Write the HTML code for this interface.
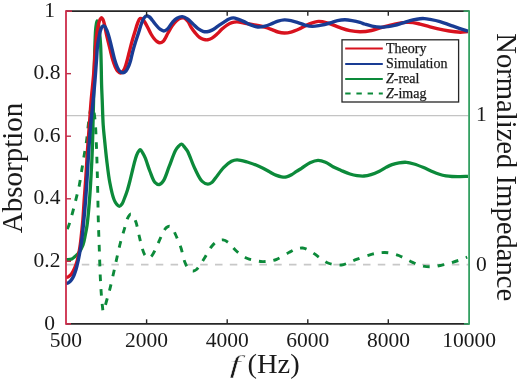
<!DOCTYPE html>
<html><head><meta charset="utf-8"><style>
html,body{margin:0;padding:0;background:#fff;}
svg{display:block;filter:blur(0.35px);}
text{font-family:"Liberation Serif","Times New Roman",serif;fill:#1a1a1a;}
</style></head><body>
<svg width="520" height="381" viewBox="0 0 520 381">
<rect x="0" y="0" width="520" height="381" fill="#fff"/>
<!-- reference lines -->
<line x1="66" y1="115.7" x2="468.5" y2="115.7" stroke="#c4c4c4" stroke-width="1.2"/>
<line x1="67" y1="264.7" x2="468.5" y2="264.7" stroke="#c8c8c8" stroke-width="1.8" stroke-dasharray="7.5 7.3"/>
<!-- curves -->
<g fill="none" stroke-linejoin="round" stroke-linecap="butt">
<path d="M66.00,231.50 C66.80,229.83 67.68,228.33 68.40,226.50 C69.23,224.39 69.90,221.84 70.60,219.50 C71.30,217.17 71.88,215.18 72.60,212.50 C73.57,208.92 74.73,204.27 75.80,199.90 C76.96,195.19 78.29,190.27 79.30,185.20 C80.37,179.85 81.12,173.96 82.00,168.60 C82.82,163.58 83.62,158.77 84.40,154.00 C85.15,149.41 85.96,145.16 86.60,140.50 C87.28,135.52 87.73,129.78 88.30,125.00 C88.79,120.88 89.15,116.84 89.80,113.50 C90.31,110.86 90.86,106.58 91.60,106.50 C92.18,106.44 93.06,108.77 93.60,110.50 C94.47,113.29 94.79,117.73 95.20,122.00 C95.72,127.32 95.93,134.18 96.20,140.00 C96.46,145.49 96.62,150.55 96.80,156.00 C96.99,161.70 97.14,167.37 97.30,173.50 C97.48,180.30 97.64,187.56 97.80,195.00 C97.97,203.02 98.07,211.59 98.30,220.00 C98.53,228.58 98.88,236.95 99.20,246.00 C99.55,255.88 99.89,268.21 100.30,277.00 C100.61,283.51 100.91,288.83 101.30,294.00 C101.63,298.35 102.01,302.81 102.40,306.00 C102.66,308.13 102.77,311.25 103.20,311.30 C103.55,311.34 104.13,309.36 104.60,308.00 C105.32,305.93 106.02,302.78 106.80,300.00 C107.65,296.97 108.54,294.20 109.50,290.50 C110.83,285.36 112.45,277.99 113.80,272.00 C115.07,266.35 116.21,260.72 117.40,255.50 C118.48,250.77 119.42,246.48 120.60,242.00 C121.78,237.51 123.28,232.75 124.50,228.60 C125.56,224.99 126.20,221.11 127.50,218.50 C128.44,216.60 129.70,214.11 130.80,214.00 C131.70,213.91 132.71,215.39 133.50,216.50 C134.53,217.96 135.21,219.91 136.00,222.30 C137.17,225.86 138.13,231.54 139.20,236.00 C140.23,240.27 141.21,245.04 142.30,248.50 C143.10,251.05 143.75,253.36 144.80,255.00 C145.58,256.23 146.50,257.49 147.50,257.80 C148.36,258.06 149.45,257.71 150.30,257.20 C151.33,256.58 152.03,255.51 153.00,254.00 C154.79,251.23 157.31,245.07 159.10,241.20 C160.57,238.03 161.61,234.95 163.00,232.50 C164.11,230.54 165.21,228.52 166.50,227.50 C167.44,226.76 168.53,226.18 169.50,226.30 C170.54,226.43 171.61,227.44 172.50,228.50 C173.70,229.92 174.53,232.41 175.50,234.50 C176.53,236.73 177.57,239.20 178.50,241.50 C179.39,243.70 180.26,245.74 181.00,248.00 C181.78,250.39 182.35,253.09 183.00,255.50 C183.61,257.75 184.02,259.96 184.80,262.00 C185.54,263.95 186.42,266.05 187.50,267.50 C188.38,268.69 189.42,269.72 190.50,270.30 C191.44,270.80 192.52,271.12 193.50,271.00 C194.52,270.88 195.55,270.28 196.50,269.50 C197.74,268.48 198.81,266.66 200.00,265.00 C201.37,263.08 202.86,260.75 204.20,258.60 C205.52,256.48 206.70,254.30 208.00,252.20 C209.30,250.10 210.46,247.81 212.00,246.00 C213.47,244.27 215.12,242.52 217.00,241.50 C218.80,240.52 221.04,239.69 223.00,239.90 C225.04,240.12 227.14,241.56 229.00,243.00 C231.11,244.64 232.86,247.59 234.80,249.50 C236.53,251.20 238.04,252.58 240.00,254.00 C242.21,255.60 244.92,257.41 247.50,258.50 C249.93,259.53 252.48,259.98 255.00,260.50 C257.51,261.01 260.08,261.52 262.60,261.60 C265.08,261.68 267.61,261.40 270.00,261.00 C272.31,260.62 274.19,260.30 276.70,259.30 C280.32,257.86 285.74,254.17 289.30,252.30 C291.86,250.96 293.71,249.72 296.00,249.00 C298.18,248.32 300.57,247.80 302.70,248.00 C304.73,248.19 306.61,249.08 308.50,250.00 C310.55,251.00 312.56,252.55 314.50,253.90 C316.40,255.22 318.01,256.61 320.00,258.00 C322.24,259.57 324.83,261.69 327.30,262.80 C329.50,263.79 331.68,264.23 334.00,264.60 C336.41,264.98 339.03,265.32 341.50,265.00 C344.03,264.67 346.52,263.52 349.00,262.60 C351.52,261.66 353.58,260.52 356.50,259.40 C360.44,257.89 366.62,255.70 370.60,254.60 C373.43,253.81 375.57,253.35 378.00,253.00 C380.30,252.67 382.54,252.45 384.80,252.50 C387.04,252.55 389.24,252.83 391.50,253.30 C393.90,253.80 396.46,254.58 398.80,255.50 C401.12,256.41 403.23,257.67 405.50,258.80 C407.86,259.97 410.31,261.31 412.70,262.40 C414.98,263.44 417.18,264.50 419.50,265.20 C421.78,265.89 424.16,266.37 426.50,266.60 C428.82,266.83 431.12,266.80 433.50,266.60 C436.01,266.39 438.72,265.80 441.20,265.30 C443.54,264.83 445.72,264.32 448.00,263.70 C450.35,263.06 452.84,262.21 455.10,261.50 C457.16,260.85 459.02,260.30 461.00,259.60 C463.05,258.87 465.13,258.00 467.20,257.20" stroke="#0c8a3a" stroke-width="2.9" stroke-dasharray="6.7 7.99" stroke-dashoffset="-2.8"/>
<path d="M66.00,259.70 C67.93,259.47 70.21,259.66 71.80,259.00 C73.15,258.44 73.98,257.39 75.10,256.40 C76.38,255.26 77.80,254.12 79.00,252.50 C80.49,250.49 81.97,247.75 83.00,245.00 C84.13,241.97 84.62,238.34 85.30,235.00 C85.98,231.67 86.54,229.10 87.10,225.00 C87.99,218.56 88.83,208.34 89.50,200.00 C90.17,191.67 90.63,183.34 91.10,175.00 C91.57,166.67 91.97,158.71 92.30,150.00 C92.66,140.46 92.85,130.00 93.10,120.00 C93.35,110.00 93.57,100.00 93.80,90.00 C94.03,80.00 94.26,68.99 94.50,60.00 C94.70,52.66 94.84,45.82 95.10,40.00 C95.30,35.49 95.41,31.48 95.80,28.00 C96.10,25.29 96.46,20.86 97.00,20.80 C97.37,20.76 97.93,22.67 98.30,24.00 C98.86,26.04 99.15,29.00 99.50,32.00 C99.95,35.80 100.32,40.20 100.60,45.00 C100.94,50.95 101.03,58.33 101.20,65.00 C101.37,71.67 101.41,78.81 101.60,85.00 C101.76,90.36 101.97,94.36 102.20,100.00 C102.49,107.27 102.72,117.73 103.20,125.00 C103.58,130.64 104.07,134.64 104.60,140.00 C105.21,146.19 105.87,153.14 106.70,160.00 C107.58,167.29 108.47,175.56 109.80,182.50 C110.97,188.60 112.51,195.71 114.00,199.50 C114.81,201.55 115.51,202.82 116.50,204.00 C117.33,204.99 118.38,206.31 119.30,206.30 C120.21,206.29 121.24,205.02 122.00,204.00 C122.95,202.73 123.44,200.90 124.20,199.00 C125.18,196.55 126.34,193.54 127.30,190.50 C128.39,187.07 129.37,183.05 130.30,179.40 C131.20,175.88 131.96,172.37 132.80,169.00 C133.59,165.81 134.33,162.53 135.20,159.70 C135.95,157.27 136.62,154.80 137.60,153.00 C138.36,151.61 139.34,149.59 140.20,149.60 C141.07,149.61 142.00,151.90 142.80,153.20 C143.65,154.59 144.26,155.76 145.10,157.70 C146.53,161.01 148.27,167.22 150.00,171.50 C151.56,175.36 152.87,180.20 154.90,182.30 C156.20,183.65 157.92,184.68 159.30,184.50 C160.73,184.32 162.04,182.77 163.30,181.00 C165.45,177.98 167.12,171.64 169.10,166.70 C171.22,161.40 173.62,153.75 175.60,150.20 C176.65,148.32 177.50,147.24 178.60,146.20 C179.53,145.32 180.64,144.10 181.60,144.20 C182.64,144.30 183.65,146.10 184.60,147.20 C185.62,148.38 186.44,149.25 187.50,151.10 C189.58,154.75 192.18,163.21 194.80,168.50 C197.12,173.20 199.48,178.87 202.20,181.40 C203.96,183.04 206.08,184.04 207.80,184.10 C209.23,184.15 210.58,183.39 211.80,182.50 C213.26,181.44 214.19,179.68 215.70,177.80 C217.89,175.07 220.79,170.46 223.60,167.60 C226.09,165.07 228.98,162.58 231.50,161.30 C233.40,160.34 234.88,159.86 237.00,159.80 C239.87,159.72 243.76,161.01 247.20,162.00 C250.86,163.05 254.80,164.50 258.30,166.00 C261.61,167.42 265.28,169.37 267.70,170.70 C269.27,171.57 270.13,172.26 271.50,173.00 C273.03,173.83 274.80,174.76 276.50,175.40 C278.14,176.02 279.82,176.55 281.50,176.80 C283.15,177.04 284.87,177.21 286.50,176.90 C288.20,176.57 289.88,175.68 291.50,174.80 C293.21,173.87 294.82,172.49 296.50,171.40 C298.16,170.32 299.62,169.49 301.50,168.30 C303.97,166.74 307.12,164.15 310.00,162.80 C312.62,161.57 315.37,160.37 318.00,160.30 C320.53,160.23 323.08,161.18 325.50,162.20 C328.09,163.29 330.41,165.43 333.00,166.80 C335.58,168.17 338.24,169.23 341.00,170.40 C343.90,171.63 347.16,173.11 350.00,174.00 C352.45,174.76 354.65,175.27 357.00,175.60 C359.32,175.93 361.68,176.16 364.00,176.00 C366.34,175.84 368.60,175.32 371.00,174.60 C373.71,173.79 376.81,172.46 379.40,171.20 C381.78,170.04 383.83,168.53 386.00,167.40 C388.02,166.35 389.89,165.36 392.00,164.60 C394.21,163.81 396.61,163.18 399.00,162.80 C401.44,162.41 404.01,162.11 406.50,162.30 C409.01,162.50 411.37,163.21 414.00,164.00 C417.03,164.91 420.58,166.35 423.60,167.60 C426.38,168.75 428.85,170.08 431.50,171.20 C434.12,172.31 436.86,173.50 439.40,174.30 C441.67,175.02 443.84,175.53 446.00,175.90 C448.04,176.25 449.85,176.38 452.00,176.50 C454.47,176.64 457.33,176.62 460.00,176.60 C462.67,176.58 465.33,176.47 468.00,176.40" stroke="#0c8a3a" stroke-width="3.3"/>
<path d="M66.00,277.30 C66.67,277.20 67.36,277.25 68.00,277.00 C68.70,276.72 69.37,276.18 70.00,275.60 C70.71,274.94 71.37,274.11 72.00,273.20 C72.72,272.15 73.37,270.92 74.00,269.60 C74.72,268.09 75.40,266.29 76.00,264.60 C76.60,262.92 77.13,261.35 77.60,259.50 C78.15,257.36 78.56,254.92 79.00,252.50 C79.47,249.93 79.89,247.52 80.30,244.50 C80.83,240.59 81.35,235.27 81.80,231.00 C82.21,227.15 82.55,224.21 82.90,220.00 C83.37,214.33 83.72,207.04 84.20,200.00 C84.74,192.13 85.45,183.33 86.00,175.00 C86.55,166.67 86.92,158.57 87.50,150.00 C88.11,140.93 88.95,130.77 89.60,122.00 C90.17,114.23 90.56,107.56 91.20,100.00 C91.88,91.93 92.92,83.34 93.60,75.00 C94.28,66.67 94.75,57.13 95.30,50.00 C95.71,44.66 95.93,40.43 96.50,36.00 C97.02,31.97 97.78,27.53 98.50,24.50 C98.98,22.47 99.34,20.68 100.00,19.50 C100.43,18.72 101.00,17.80 101.50,17.80 C102.00,17.80 102.56,18.69 103.00,19.50 C103.73,20.84 104.18,23.34 104.70,25.50 C105.30,27.99 105.71,30.86 106.30,33.60 C106.91,36.43 107.61,39.32 108.30,42.20 C109.00,45.12 109.75,48.05 110.50,51.00 C111.25,53.98 111.95,57.24 112.80,60.00 C113.54,62.42 114.30,64.72 115.20,66.70 C115.96,68.38 116.71,70.11 117.70,71.20 C118.47,72.05 119.43,72.97 120.30,73.00 C121.13,73.03 122.08,72.25 122.80,71.50 C123.71,70.56 124.35,69.03 125.00,67.50 C125.79,65.63 126.34,63.35 127.00,61.00 C127.77,58.25 128.50,55.12 129.30,52.00 C130.16,48.63 131.04,44.95 132.00,41.50 C132.94,38.12 134.04,34.64 135.00,31.50 C135.86,28.68 136.56,25.81 137.50,23.50 C138.26,21.63 138.93,19.14 140.00,18.60 C140.73,18.23 141.75,18.54 142.50,19.00 C143.48,19.60 144.17,21.17 145.00,22.50 C146.00,24.10 147.02,26.12 148.00,28.00 C149.02,29.95 149.94,32.17 151.00,34.00 C151.95,35.64 152.93,37.20 154.00,38.50 C154.95,39.65 155.95,40.77 157.00,41.50 C157.90,42.13 158.83,42.78 159.80,42.80 C160.83,42.83 161.96,42.40 163.00,41.50 C164.75,39.99 166.43,35.69 168.00,33.00 C169.41,30.57 170.53,28.17 172.00,26.06 C173.38,24.09 174.94,22.08 176.50,20.70 C177.79,19.56 179.15,18.56 180.50,18.12 C181.66,17.74 182.87,17.52 184.00,17.92 C185.40,18.41 186.86,20.09 188.00,21.54 C189.23,23.11 189.86,25.29 191.00,27.10 C192.18,28.98 193.57,30.87 195.00,32.60 C196.41,34.30 197.93,36.25 199.50,37.40 C200.79,38.34 202.12,38.90 203.50,39.30 C204.85,39.69 206.31,39.98 207.70,39.80 C209.15,39.61 210.57,38.93 212.00,38.10 C213.68,37.13 215.37,35.56 217.00,34.10 C218.71,32.57 220.29,30.63 222.00,29.10 C223.63,27.64 225.27,26.21 227.00,25.10 C228.61,24.07 230.29,23.13 232.00,22.60 C233.63,22.09 235.19,21.88 237.00,21.90 C239.14,21.92 241.52,22.57 244.00,23.00 C246.82,23.49 249.81,24.07 253.00,24.70 C256.62,25.42 261.19,26.18 264.60,27.10 C267.37,27.85 269.67,28.74 272.00,29.60 C274.12,30.38 275.93,31.43 278.00,32.00 C280.07,32.57 282.25,32.98 284.40,33.00 C286.58,33.02 288.67,32.70 291.00,32.10 C293.81,31.37 297.03,29.92 300.00,28.60 C303.03,27.26 305.89,25.30 309.00,24.10 C312.09,22.90 315.40,21.55 318.60,21.40 C321.73,21.25 324.72,22.20 328.00,23.10 C331.80,24.15 336.16,26.31 340.00,27.60 C343.46,28.77 346.64,29.92 350.00,30.60 C353.30,31.27 356.55,31.69 360.00,31.70 C363.70,31.71 367.79,31.24 371.50,30.50 C375.11,29.78 378.33,28.42 382.00,27.40 C386.00,26.29 390.47,24.94 394.60,24.10 C398.50,23.30 402.75,22.60 406.10,22.40 C408.68,22.25 410.70,22.32 413.00,22.60 C415.34,22.88 417.47,23.48 420.00,24.10 C423.05,24.85 426.44,25.99 430.00,26.90 C434.04,27.93 438.74,29.07 443.00,29.90 C447.07,30.69 451.78,31.43 455.00,31.80 C457.15,32.05 458.45,32.20 460.40,32.20 C462.72,32.19 465.47,31.80 468.00,31.60" stroke="#d8121e" stroke-width="3.4"/>
<path d="M66.00,283.50 C66.67,283.33 67.36,283.30 68.00,283.00 C68.70,282.67 69.37,282.11 70.00,281.50 C70.71,280.81 71.38,279.95 72.00,279.00 C72.72,277.90 73.38,276.61 74.00,275.20 C74.73,273.54 75.38,271.66 76.00,269.60 C76.73,267.17 77.41,264.15 78.00,261.50 C78.57,258.96 79.04,256.46 79.50,254.00 C79.94,251.63 80.31,249.48 80.70,247.00 C81.14,244.19 81.59,241.28 82.00,238.00 C82.50,234.07 82.91,230.04 83.40,225.00 C84.08,218.02 84.95,208.34 85.60,200.00 C86.25,191.67 86.77,183.33 87.30,175.00 C87.83,166.67 88.23,158.33 88.80,150.00 C89.37,141.66 89.97,133.33 90.70,125.00 C91.43,116.66 92.45,107.87 93.20,100.00 C93.87,92.96 94.45,86.67 95.00,80.00 C95.55,73.34 96.04,66.19 96.50,60.00 C96.90,54.64 97.05,49.35 97.60,45.00 C98.02,41.61 98.62,38.75 99.20,36.00 C99.70,33.65 100.08,31.29 100.80,29.50 C101.36,28.11 101.98,26.35 102.80,26.00 C103.39,25.75 104.23,26.07 104.80,26.50 C105.53,27.06 105.99,28.40 106.50,29.50 C107.07,30.74 107.48,31.97 108.00,33.60 C108.75,35.93 109.65,39.31 110.40,42.20 C111.15,45.11 111.79,48.09 112.50,51.00 C113.19,53.86 113.81,56.82 114.60,59.50 C115.33,61.96 116.05,64.43 117.00,66.50 C117.82,68.30 118.65,70.24 119.80,71.30 C120.70,72.13 121.88,72.84 122.90,72.80 C123.94,72.76 125.12,71.90 126.00,71.00 C127.05,69.93 127.76,68.14 128.50,66.50 C129.32,64.68 129.96,62.69 130.60,60.50 C131.35,57.93 131.83,54.94 132.60,52.00 C133.44,48.79 134.47,45.32 135.50,42.00 C136.54,38.66 137.76,35.20 138.80,32.00 C139.75,29.05 140.54,26.00 141.50,23.50 C142.29,21.44 143.00,19.35 144.00,18.00 C144.74,17.00 145.58,15.96 146.50,15.80 C147.41,15.64 148.57,16.34 149.50,17.00 C150.61,17.79 151.48,19.25 152.50,20.50 C153.64,21.89 154.76,23.56 156.00,25.00 C157.25,26.46 158.58,28.18 160.00,29.20 C161.21,30.07 162.55,31.03 163.80,31.00 C165.05,30.97 166.29,30.05 167.50,29.00 C169.21,27.52 170.78,24.16 172.50,22.27 C173.96,20.66 175.32,19.15 177.00,18.21 C178.60,17.32 180.56,16.55 182.30,16.67 C184.07,16.80 185.83,17.91 187.50,19.02 C189.41,20.29 191.21,22.46 193.00,24.10 C194.70,25.65 196.26,27.37 198.00,28.60 C199.60,29.73 201.37,30.80 203.00,31.30 C204.39,31.72 205.69,31.85 207.10,31.70 C208.68,31.53 210.34,30.91 212.00,30.10 C213.96,29.15 216.00,27.43 218.00,26.10 C220.00,24.77 222.08,23.33 224.00,22.10 C225.73,20.99 227.34,19.71 229.00,19.00 C230.44,18.39 231.83,17.90 233.30,17.90 C234.83,17.90 236.36,18.55 238.00,19.10 C239.90,19.73 242.02,20.69 244.00,21.60 C246.02,22.52 247.84,23.73 250.00,24.60 C252.37,25.56 255.14,26.77 257.70,27.00 C260.14,27.22 262.62,26.66 265.00,26.10 C267.39,25.53 269.77,24.46 272.00,23.60 C274.09,22.79 275.93,21.72 278.00,21.10 C280.07,20.48 282.24,19.99 284.40,19.90 C286.58,19.81 288.79,20.17 291.00,20.60 C293.32,21.05 295.68,21.85 298.00,22.60 C300.35,23.35 302.62,24.47 305.00,25.10 C307.38,25.73 309.83,26.34 312.30,26.40 C314.83,26.46 317.28,25.90 320.00,25.40 C323.13,24.82 326.92,23.86 330.00,23.00 C332.69,22.25 334.97,21.13 337.50,20.60 C339.97,20.08 342.54,19.79 345.00,19.80 C347.37,19.81 349.60,20.19 352.00,20.60 C354.59,21.04 357.72,21.75 360.00,22.40 C361.76,22.90 362.88,23.44 364.60,24.00 C366.77,24.70 369.41,25.66 372.00,26.20 C374.76,26.78 377.92,27.26 380.70,27.30 C383.24,27.34 385.64,26.95 388.00,26.60 C390.26,26.27 392.52,25.79 394.60,25.30 C396.50,24.85 398.15,24.36 400.00,23.80 C401.98,23.20 404.00,22.43 406.10,21.80 C408.32,21.13 410.68,20.42 413.00,19.90 C415.31,19.38 417.92,18.90 420.00,18.70 C421.66,18.54 422.93,18.50 424.50,18.60 C426.25,18.71 427.90,19.02 430.00,19.40 C432.85,19.92 436.69,20.66 440.00,21.60 C443.36,22.55 446.67,23.93 450.00,25.10 C453.33,26.27 456.84,27.55 460.00,28.60 C462.81,29.53 465.33,30.27 468.00,31.10" stroke="#193c94" stroke-width="3.4"/>
</g>
<!-- axes -->
<g stroke="#262626" stroke-width="1.6" fill="none">
<line x1="66" y1="11.1" x2="469" y2="11.1"/>
<line x1="66" y1="323.9" x2="469" y2="323.9"/>
</g>
<g stroke="#262626" stroke-width="1.4">
<line x1="66" y1="73.66" x2="71" y2="73.66" stroke="#b83048"/>
<line x1="66" y1="136.20" x2="71" y2="136.20" stroke="#b83048"/>
<line x1="66" y1="198.80" x2="71" y2="198.80" stroke="#b83048"/>
<line x1="66" y1="261.30" x2="71" y2="261.30" stroke="#b83048"/>
<line x1="146.6" y1="11" x2="146.6" y2="15.8"/>
<line x1="146.6" y1="324" x2="146.6" y2="319.3"/>
<line x1="227.2" y1="11" x2="227.2" y2="15.8"/>
<line x1="227.2" y1="324" x2="227.2" y2="319.3"/>
<line x1="307.8" y1="11" x2="307.8" y2="15.8"/>
<line x1="307.8" y1="324" x2="307.8" y2="319.3"/>
<line x1="388.3" y1="11" x2="388.3" y2="15.8"/>
<line x1="388.3" y1="324" x2="388.3" y2="319.3"/>
</g>
<line x1="66" y1="10.3" x2="66" y2="324.7" stroke="#cc2c4a" stroke-width="1.8"/>
<line x1="66" y1="11.1" x2="72" y2="11.1" stroke="#cc2c4a" stroke-width="1.6"/>
<line x1="66" y1="323.9" x2="71" y2="323.9" stroke="#cc2c4a" stroke-width="1.6"/>
<line x1="463.5" y1="11.1" x2="469" y2="11.1" stroke="#34a062" stroke-width="1.6"/>
<line x1="464" y1="323.9" x2="469" y2="323.9" stroke="#34a062" stroke-width="1.6"/>
<line x1="469.1" y1="10.3" x2="469.1" y2="324.7" stroke="#34a062" stroke-width="1.8"/>
<!-- legend -->
<rect x="342" y="39.8" width="116.6" height="62.2" fill="#fff" stroke="#262626" stroke-width="1.3"/>
<line x1="345.2" y1="48.5" x2="382.8" y2="48.5" stroke="#d8121e" stroke-width="2"/>
<line x1="345.2" y1="64" x2="382.8" y2="64" stroke="#193c94" stroke-width="2"/>
<line x1="345.2" y1="79" x2="382.8" y2="79" stroke="#0c8a3a" stroke-width="2"/>
<line x1="345.2" y1="93.6" x2="382.8" y2="93.6" stroke="#0c8a3a" stroke-width="2" stroke-dasharray="5.4 5.8"/>
<g font-size="14" stroke="#1a1a1a" stroke-width="0.25">
<text x="386" y="53.2">Theory</text>
<text x="386" y="68.2">Simulation</text>
<text x="386" y="83.1"><tspan font-style="italic">Z</tspan>-real</text>
<text x="386" y="98"><tspan font-style="italic">Z</tspan>-imag</text>
</g>
<!-- tick labels -->
<g font-size="21.5">
<text x="44.2" y="16.8">1</text>
<text x="33.6" y="79.1">0.8</text>
<text x="33.6" y="141.6">0.6</text>
<text x="33.6" y="204.3">0.4</text>
<text x="33.6" y="266.8">0.2</text>
<text x="44.2" y="329.5">0</text>
<text x="65.9" y="346.6" text-anchor="middle">500</text>
<text x="146.5" y="346.6" text-anchor="middle">2000</text>
<text x="227.3" y="346.6" text-anchor="middle">4000</text>
<text x="307.7" y="346.6" text-anchor="middle">6000</text>
<text x="388.4" y="346.6" text-anchor="middle">8000</text>
<text x="469.1" y="346.6" text-anchor="middle">10000</text>
<text x="475.9" y="121.2">1</text>
<text x="476" y="271.2">0</text>
</g>
<!-- axis labels -->
<text font-size="29" transform="translate(21.8,167.9) rotate(-90)" text-anchor="middle">Absorption</text>
<text font-size="29" transform="translate(497,167.2) rotate(90)" text-anchor="middle" textLength="268" lengthAdjust="spacingAndGlyphs">Normalized Impedance</text>
<text font-size="28" font-style="italic" transform="translate(229.5,372.6) scale(1.45,0.9)" stroke="#fff" stroke-width="0.4" style="white-space:pre">f </text>
<text font-size="28" x="247.5" y="372.6" textLength="52.2" lengthAdjust="spacingAndGlyphs">(Hz)</text>
</svg>
</body></html>
